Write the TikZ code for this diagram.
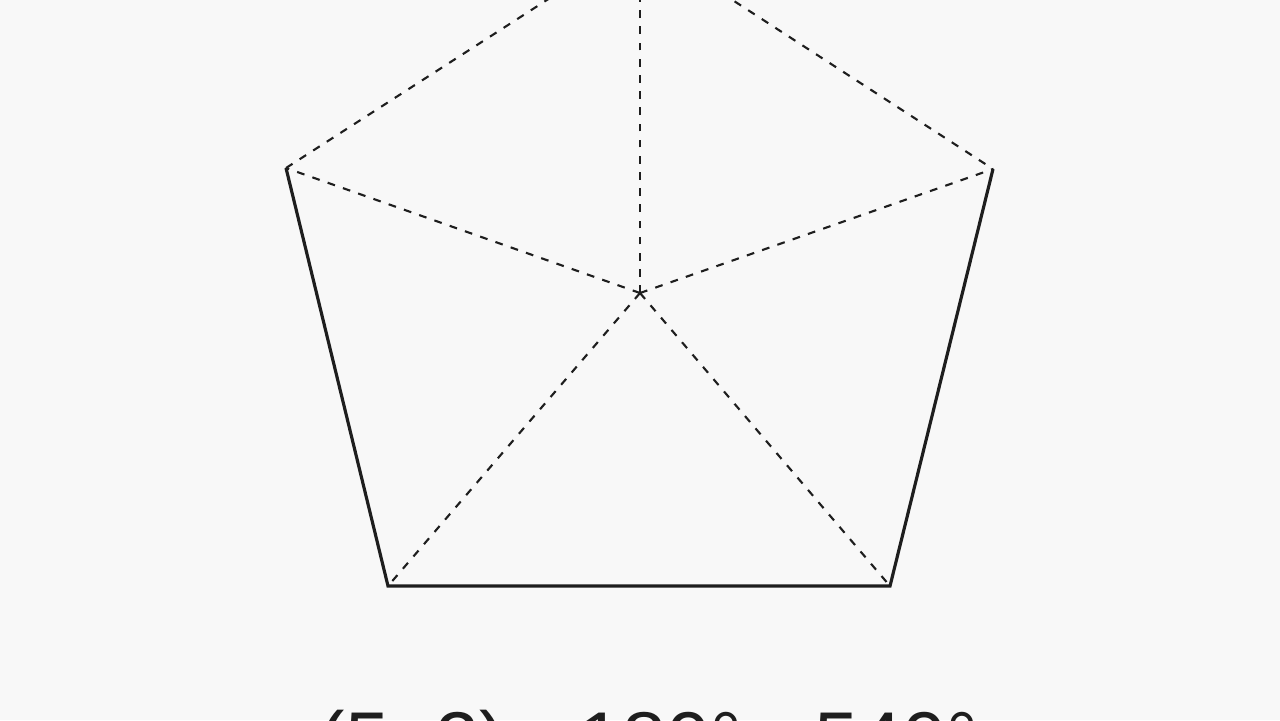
\documentclass[tikz,border=0pt]{standalone}
\usepackage{fontspec}
\setmainfont{Liberation Sans}
\definecolor{paper}{RGB}{248,248,248}
\definecolor{ink}{RGB}{30,30,30}

\begin{document}
\begin{tikzpicture}[x=0.01cm, y=0.01cm]
\tikzstyle{every node}+=[inner sep=0pt]
\tikzstyle{side}=[ink, line width=0.9pt, line join=miter]
\tikzstyle{cut}=[ink, line width=0.6pt, dash pattern=on 2.2pt off 2.4pt]
\fill [paper] (0,0) rectangle (1280,-720);
\useasboundingbox (0,0) rectangle (1280,-720);
\clip (0,0) rectangle (1280,-720);
\coordinate (T) at (640,60);
\coordinate (L) at (286,-168);
\coordinate (R) at (993,-169);
\coordinate (BL) at (388,-586);
\coordinate (BR) at (890,-586);
\coordinate (O) at (640,-293);
\draw [side] (L) -- (BL) -- (BR) -- (R);
\draw [cut] (L) -- (T) -- (R);
\draw [cut] (O) -- (T);
\draw [cut] (O) -- (L);
\draw [cut] (O) -- (R);
\draw [cut] (O) -- (BL);
\draw [cut] (O) -- (BR);
\node (sum) [anchor=base west, ink, font=\fontsize{22.5}{27}\selectfont] at (318,-767) {(5−2)\,×\,180°\,=\,540°};
\end{tikzpicture}
\end{document}
